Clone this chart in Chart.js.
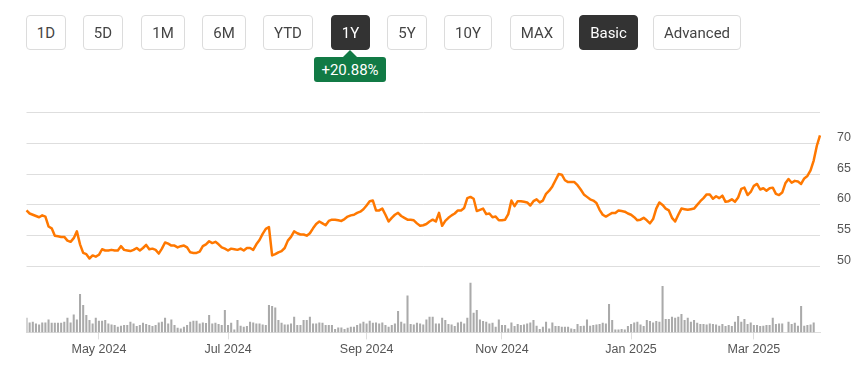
<!DOCTYPE html>
<html>
<head>
<meta charset="utf-8">
<script src="https://cdn.jsdelivr.net/npm/chart.js@4.4.1/dist/chart.umd.min.js"></script>
<style>
  html, body { margin: 0; padding: 0; background: #fff; }
  body { width: 855px; height: 374px; position: relative; overflow: hidden; font-family: Roboto, Arial, sans-serif; }
  #priceChart { position: absolute; left: 0; top: 0; }
  .btn { position: absolute; top: 15px; height: 35px; box-sizing: border-box; border: 1px solid #dcdcdc; border-radius: 4px;
         font-size: 15px; color: #444; display: flex; align-items: center; justify-content: center; background: #fff; }
  .btn.on { background: #333; border-color: #333; color: #fff; }
  .badge { position: absolute; left: 314px; top: 57px; width: 72px; height: 25px; background: #117a45; border-radius: 3px;
           color: #fff; font-size: 15px; display: flex; align-items: center; justify-content: center; }
  .badge::before { content: ""; position: absolute; top: -7px; left: 29px; border-left: 7px solid transparent;
                   border-right: 7px solid transparent; border-bottom: 7px solid #117a45; }
</style>
</head>
<body>
<canvas id="priceChart" width="855" height="374"></canvas>

<div class="btn" style="left:26px;width:40px">1D</div>
<div class="btn" style="left:83px;width:40px">5D</div>
<div class="btn" style="left:141px;width:44px">1M</div>
<div class="btn" style="left:202px;width:44px">6M</div>
<div class="btn" style="left:263px;width:50px">YTD</div>
<div class="btn on" style="left:331px;width:39px">1Y</div>
<div class="btn" style="left:387px;width:40px">5Y</div>
<div class="btn" style="left:444px;width:48px">10Y</div>
<div class="btn" style="left:510px;width:54px">MAX</div>
<div class="btn on" style="left:579px;width:59px">Basic</div>
<div class="btn" style="left:653px;width:88px">Advanced</div>
<div class="badge">+20.88%</div>

<script>
// daily close, one value per trading day (28 Mar 2024 -> 1 Apr 2025)
const closePrices = [
  59.1, 58.6, 58.4, 58.2, 58.0, 58.3, 58.1, 56.5, 56.2, 55.0,
  54.9, 54.8, 54.8, 54.2, 54.0, 54.6, 55.7, 53.6, 52.2, 52.0,
  51.3, 51.8, 51.6, 51.9, 52.8, 52.6, 52.6, 52.7, 52.6, 52.6,
  53.3, 52.7, 52.6, 52.5, 52.7, 53.0, 52.6, 53.0, 53.5, 52.8,
  52.9, 52.7, 52.1, 52.9, 53.9, 53.7, 53.4, 53.4, 53.1, 53.3,
  53.4, 53.1, 52.3, 52.2, 52.2, 52.4, 53.3, 53.6, 54.1, 53.8,
  54.0, 53.6, 53.1, 52.9, 52.6, 52.9, 52.8, 52.7, 52.9, 52.6,
  53.0, 53.0, 52.7, 53.6, 54.3, 55.3, 56.1, 56.4, 51.8, 52.0,
  52.3, 52.5, 53.0, 54.2, 54.8, 55.7, 55.4, 55.2, 55.2, 55.0,
  55.4, 56.2, 56.9, 57.3, 57.0, 56.7, 57.4, 57.6, 57.6, 57.5,
  57.4, 57.7, 58.1, 58.3, 58.4, 58.7, 58.9, 59.3, 59.9, 60.6,
  60.7, 59.1, 59.1, 59.4, 58.4, 57.3, 57.9, 58.4, 58.7, 58.2,
  57.9, 57.6, 57.6, 57.5, 57.0, 56.6, 56.7, 56.9, 57.3, 57.6,
  57.3, 58.7, 56.6, 57.4, 57.9, 58.3, 58.6, 59.1, 59.1, 59.5,
  61.1, 61.3, 61.0, 59.0, 59.2, 59.4, 58.5, 58.6, 58.0, 58.1,
  57.5, 57.5, 57.6, 58.5, 60.7, 59.8, 60.6, 60.6, 60.5, 60.4,
  59.9, 60.6, 60.9, 60.4, 60.7, 61.8, 62.3, 63.0, 64.0, 65.0,
  64.9, 64.0, 63.7, 63.7, 63.7, 63.2, 62.5, 61.7, 61.3, 60.9,
  60.7, 60.3, 59.2, 58.4, 58.1, 58.4, 58.7, 58.7, 59.1, 59.0,
  58.9, 58.6, 58.4, 58.0, 57.5, 57.6, 57.9, 57.5, 57.0, 57.7,
  59.4, 60.4, 60.0, 59.4, 59.1, 57.9, 57.3, 58.4, 59.4, 59.3,
  59.2, 59.3, 59.4, 60.0, 60.6, 61.1, 61.7, 61.7, 61.0, 61.4,
  61.1, 61.5, 60.5, 60.6, 60.9, 60.5, 61.2, 62.6, 62.8, 61.6,
  62.1, 63.1, 63.4, 62.5, 62.7, 62.3, 62.7, 62.8, 61.8, 61.6,
  62.0, 63.5, 64.2, 63.6, 63.9, 63.8, 63.4, 64.3, 64.7, 65.6,
  67.2, 69.6, 71.3
];

// daily volume (millions)
const volumes = [
  4.4, 3.0, 3.2, 2.7, 2.4, 3.0, 3.0, 3.9, 2.9, 2.9,
  2.9, 2.9, 3.2, 4.4, 3.0, 5.4, 3.9, 11.5, 8.2, 5.2,
  3.7, 2.7, 4.4, 3.5, 3.5, 3.7, 2.7, 2.4, 2.2, 1.7,
  2.0, 2.2, 2.2, 3.2, 2.7, 1.9, 2.2, 2.9, 2.5, 2.2,
  1.9, 2.2, 3.0, 3.2, 4.4, 2.7, 3.9, 2.2, 1.4, 1.2,
  1.7, 2.2, 3.2, 3.5, 3.5, 2.7, 3.0, 2.8, 5.2, 2.7,
  2.9, 2.5, 2.2, 6.7, 2.2, 2.9, 0.9, 3.7, 2.0, 1.7,
  1.9, 3.2, 3.0, 2.7, 2.7, 2.4, 2.2, 8.2, 7.9, 7.5,
  3.7, 2.9, 2.4, 2.4, 2.7, 4.7, 2.2, 2.2, 3.7, 3.7,
  4.7, 2.7, 2.7, 3.0, 2.9, 2.2, 2.2, 2.2, 1.0, 1.5,
  1.5, 1.0, 1.4, 1.7, 1.7, 2.2, 2.7, 3.2, 2.7, 3.5,
  2.9, 3.0, 2.7, 3.0, 2.2, 1.7, 2.2, 2.7, 6.4, 3.2,
  2.7, 11.1, 2.5, 2.4, 2.9, 2.7, 2.4, 3.9, 4.7, 4.7,
  2.7, 2.7, 4.4, 3.7, 2.5, 2.4, 1.9, 3.0, 3.2, 2.7,
  4.4, 14.9, 5.9, 6.7, 3.9, 3.4, 3.2, 2.7, 2.9, 1.7,
  3.9, 2.2, 2.2, 1.2, 3.0, 1.9, 2.5, 2.2, 2.4, 2.7,
  3.0, 3.7, 2.0, 1.0, 1.7, 3.2, 1.2, 3.0, 1.9, 1.9,
  1.7, 1.7, 1.7, 1.2, 1.0, 2.5, 1.9, 2.0, 3.9, 2.0,
  2.2, 2.4, 2.5, 2.9, 2.7, 8.5, 3.7, 0.9, 0.9, 1.0,
  0.9, 1.9, 2.5, 3.0, 3.2, 2.4, 1.9, 3.7, 3.4, 3.0,
  3.4, 3.2, 13.9, 4.0, 4.0, 4.7, 4.4, 4.7, 5.5, 3.7,
  4.4, 3.2, 3.7, 2.9, 2.5, 2.5, 2.4, 2.7, 2.5, 2.4,
  2.0, 2.5, 1.9, 2.2, 1.9, 3.2, 4.9, 3.2, 4.0, 2.5,
  3.0, 2.2, 2.2, 1.9, 2.0, 2.2, 2.2, 4.4, 2.5, 2.7,
  2.7, null, 3.2, 2.5, 2.9, 2.0, 7.9, 2.0, 2.2, 2.4,
  3.0, null, null
];

const priceTicks = [50, 55, 60, 65, 70, 75];
const monthTicks = ['May 2024', 'Jul 2024', 'Sep 2024', 'Nov 2024', 'Jan 2025', 'Mar 2025'];
const monthNames = ['Jan', 'Feb', 'Mar', 'Apr', 'May', 'Jun', 'Jul', 'Aug', 'Sep', 'Oct', 'Nov', 'Dec'];
const holidays = ['2024-03-29', '2024-05-27', '2024-06-19', '2024-07-04', '2024-09-02', '2024-11-28',
                  '2024-12-25', '2025-01-01', '2025-01-09', '2025-01-20', '2025-02-17'];

// trading days as category labels
const tradingDays = [];
let day = new Date(Date.UTC(2024, 2, 28));
while (tradingDays.length < closePrices.length) {
    const iso = day.toISOString().slice(0, 10);
    const wd = day.getUTCDay();
    if (wd !== 0 && wd !== 6 && !holidays.includes(iso)) tradingDays.push(iso);
    day.setUTCDate(day.getUTCDate() + 1);
}

function monthLabel(iso) {
    return monthNames[+iso.slice(5, 7) - 1] + ' ' + iso.slice(0, 4);
}

// first trading day of each labelled month
const tickIndexes = monthTicks.map(m => tradingDays.findIndex(d => monthLabel(d) === m));

const axisFont = { family: '"Liberation Sans", Arial, sans-serif', size: 12.5 };

const ctx = document.getElementById('priceChart').getContext('2d');
new Chart(ctx, {
    data: {
        labels: tradingDays,
        datasets: [
            {
                type: 'line',
                data: closePrices,
                yAxisID: 'y',
                borderColor: '#ff7800',
                borderWidth: 2.5,
                borderJoinStyle: 'round',
                pointRadius: 0,
                tension: 0,
                order: 0
            },
            {
                type: 'bar',
                data: volumes,
                yAxisID: 'yv',
                backgroundColor: '#aaaaaa',
                barPercentage: 0.65,
                categoryPercentage: 1,
                order: 1
            }
        ]
    },
    options: {
        responsive: false,
        animation: false,
        layout: { padding: { left: 26.5, top: 112.5, right: 0, bottom: 0 } },
        plugins: { legend: { display: false }, tooltip: { enabled: false } },
        scales: {
            x: {
                offset: false,
                grid: { offset: false, drawOnChartArea: false, tickLength: 7, color: '#dddddd' },
                border: { color: '#dddddd' },
                afterBuildTicks: s => { s.ticks = s.ticks.filter(t => tickIndexes.includes(t.value)); },
                afterFit: s => { s.height = 41.6; },
                ticks: {
                    autoSkip: false,
                    maxRotation: 0,
                    padding: 3,
                    color: '#555',
                    font: axisFont,
                    callback: value => monthLabel(tradingDays[value])
                }
            },
            y: {
                position: 'right',
                min: 39.3,
                max: 75,
                afterBuildTicks: s => { s.ticks = priceTicks.map(v => ({ value: v })); },
                afterFit: s => { s.width = 35; },
                grid: { color: '#dedede', drawTicks: false },
                border: { display: false },
                ticks: {
                    padding: 17,
                    labelOffset: -6,
                    color: '#555',
                    font: axisFont,
                    callback: v => (v === 75 ? '' : v)
                }
            },
            yv: { display: false, min: 0, max: 66 }
        }
    }
});
</script>
</body>
</html>
